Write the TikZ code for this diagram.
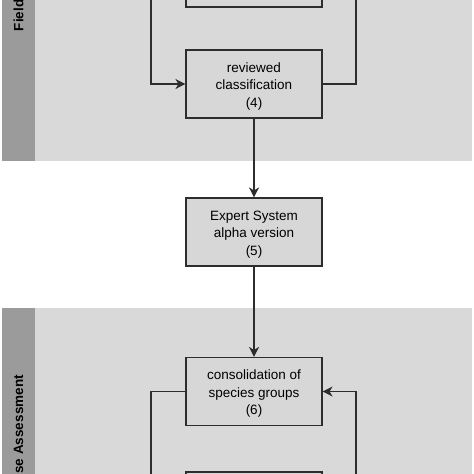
\documentclass[tikz,border=0pt]{standalone}
\usepackage{fontspec}
\setmainfont{Liberation Sans}
\usetikzlibrary{arrows.meta}
\definecolor{lanebg}{RGB}{217,217,217}
\definecolor{stripbg}{RGB}{155,155,155}
\definecolor{boxbg}{RGB}{215,215,215}
\definecolor{linec}{RGB}{45,45,45}
\newcommand{\toppad}{\rule{0pt}{14pt}}
\tikzset{
  stepbox/.style={draw=linec, line width=1.1pt, fill=boxbg, minimum width=136pt, minimum height=68pt,
    inner sep=0pt, align=center, font=\fontsize{13.5}{17.5}\selectfont},
  flow/.style={draw=linec, line width=1.1pt},
  arr/.style={flow, -{Stealth[length=10pt,width=10pt,inset=3pt]}},
  lanelabel/.style={rotate=90, anchor=east, inner sep=0pt, font=\bfseries\fontsize{13.5}{16}\selectfont}
}
\begin{document}
\begin{tikzpicture}[x=1pt,y=-1pt]
\useasboundingbox (0,0) rectangle (474,474);
\begin{scope}
\clip (0,0) rectangle (474,474);
% lanes
\fill[lanebg] (35,-10) rectangle (472,161);
\fill[stripbg] (2,-10) rectangle (35,161);
\fill[lanebg] (35,308) rectangle (472,484);
\fill[stripbg] (2,308) rectangle (35,484);
\node[lanelabel] (l1) at (18.5,-0.5) {Field};
\node[lanelabel] (l2) at (18.5,375) {se Assessment};
% boxes
\node[stepbox] (b3) at (254,-27) {};
\node[stepbox] (b4) at (254,84) {\toppad reviewed\\classification\\(4)};
\node[stepbox] (b5) at (254,232) {\toppad Expert System\\alpha version\\(5)};
\node[stepbox] (b6) at (254,391.5) {\toppad consolidation of\\species groups\\(6)};
\node[stepbox] (b7) at (254,506) {};
% free ends
\coordinate (tl) at (151,-2);
\coordinate (tr) at (356,-2);
\coordinate (bl) at (151,476);
\coordinate (br) at (356,476);
% connectors
\draw[arr] (tl) |- (b4.west);
\draw[flow] (b4.east) -| (tr);
\draw[arr] (b4.south) -- (b5.north);
\draw[arr] (b5.south) -- (b6.north);
\draw[flow] (b6.west) -| (bl);
\draw[arr] (br) |- (b6.east);
\end{scope}
\end{tikzpicture}
\end{document}
